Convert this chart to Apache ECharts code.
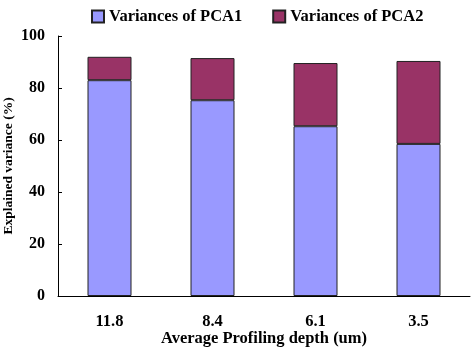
<!DOCTYPE html>
<html>
<head>
<meta charset="utf-8">
<script src="https://cdn.jsdelivr.net/npm/echarts@6/dist/echarts.min.js"></script>
<style>
    html, body { margin: 0; padding: 0; background: #fff; }
    #chart { width: 474px; height: 350px; }
</style>
</head>
<body>
<div id="chart"></div>
<script>
    const depths = ['11.8', '8.4', '6.1', '3.5']
    const pca1 = [83, 75.3, 65.3, 58.5]
    const pca2 = [9, 16.2, 24.3, 31.9]
    const yTicks = [0, 20, 40, 60, 80, 100]

    const font = 'Liberation Serif'
    const chart = echarts.init(document.getElementById('chart'))

    chart.setOption({
        animation: false,
        textStyle: {
            fontFamily: font,
            fontWeight: 'bold',
            color: '#000'
        },
        legend: {
            top: 3,
            left: 86,
            itemWidth: 12,
            itemHeight: 12,
            itemGap: 30,
            icon: 'rect',
            textStyle: {
                fontFamily: font,
                fontWeight: 'bold',
                fontSize: 16.5,
                color: '#000'
            }
        },
        grid: {
            left: 58,
            right: 4,
            top: 36,
            bottom: 54,
            outerBoundsMode: 'none',
            containLabel: false
        },
        xAxis: {
            type: 'category',
            data: depths,
            name: 'Average Profiling depth (um)',
            nameLocation: 'middle',
            nameMoveOverlap: false,
            nameGap: 34,
            nameTextStyle: { fontFamily: font, fontWeight: 'bold', fontSize: 16.5, color: '#000' },
            axisLine: { lineStyle: { color: '#000', width: 1 } },
            axisTick: { inside: true, length: 4, lineStyle: { color: '#000' } },
            axisLabel: { margin: 17, fontFamily: font, fontWeight: 'bold', fontSize: 16.5, color: '#000' }
        },
        yAxis: {
            type: 'value',
            min: yTicks[0],
            max: yTicks[yTicks.length - 1],
            interval: 20,
            name: 'Explained variance (%)',
            nameLocation: 'middle',
            nameMoveOverlap: false,
            nameGap: 42,
            nameTextStyle: { fontFamily: font, fontWeight: 'bold', fontSize: 13.5, color: '#000' },
            axisLine: { show: true, lineStyle: { color: '#000', width: 1 } },
            axisTick: { show: true, inside: true, length: 4, lineStyle: { color: '#000' } },
            axisLabel: { margin: 13, fontFamily: font, fontWeight: 'bold', fontSize: 16, color: '#000' },
            splitLine: { show: false }
        },
        series: [
            {
                name: 'Variances of PCA1',
                type: 'bar',
                stack: 'total',
                barWidth: 44,
                data: pca1,
                itemStyle: { color: '#9999ff', borderColor: '#222', borderWidth: 1 }
            },
            {
                name: 'Variances of PCA2',
                type: 'bar',
                stack: 'total',
                barWidth: 44,
                data: pca2,
                itemStyle: { color: '#993366', borderColor: '#222', borderWidth: 1 }
            }
        ]
    })
</script>
</body>
</html>
